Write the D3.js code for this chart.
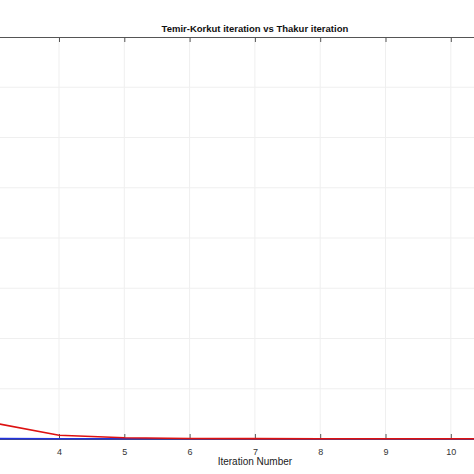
<!DOCTYPE html>
<html>
<head>
<meta charset="utf-8">
<script src="https://cdn.jsdelivr.net/npm/d3@7"></script>
<style>
  body { margin: 0; background: white; }
  text { font-family: "Liberation Sans", Arial, sans-serif; }
</style>
</head>
<body>
<div id="graf"></div>
<script>
// Datos
const iterations = [1, 2, 3, 4, 5, 6, 7, 8, 9, 10, 11, 12]
const temirKorkut = [0.02, 0.012, 0.008, 0.006, 0.005, 0.004, 0.004, 0.004, 0.004, 0.004, 0.004, 0.004]
const thakur = [4.1, 1.3, 0.32, 0.075, 0.025, 0.01, 0.007, 0.006, 0.005, 0.005, 0.005, 0.005]
const xTicks = [4, 5, 6, 7, 8, 9, 10]
const yTicks = [0, 1, 2, 3, 4, 5, 6, 7, 8]

const W = 474, H = 474
const svg = d3.select('#graf').append('svg').attr('width', W).attr('height', H)

const x = d3.scaleLinear().domain([1, 13]).range([59 - 3 * 65.3, 59 + 9 * 65.3])
const y = d3.scaleLinear().domain([0, 8]).range([439, 37])

// Rejilla
svg.append('g').selectAll('line').data(xTicks).join('line')
  .attr('x1', d => x(d)).attr('x2', d => x(d)).attr('y1', 37).attr('y2', 439)
  .attr('stroke', '#efefef')
svg.append('g').selectAll('line').data(yTicks.slice(1, -1)).join('line')
  .attr('x1', 0).attr('x2', W).attr('y1', d => y(d)).attr('y2', d => y(d))
  .attr('stroke', '#efefef')

// Ejes
const xb = svg.append('g').attr('transform', 'translate(0,439)')
  .call(d3.axisBottom(x).tickValues(xTicks).tickSize(-5).tickPadding(10).tickFormat(d3.format('d')))
xb.select('.domain').attr('stroke', '#555')
xb.selectAll('.tick line').attr('stroke', '#555')
xb.selectAll('text').attr('font-size', 9).attr('fill', '#333')

const xt = svg.append('g').attr('transform', 'translate(0,37)')
  .call(d3.axisTop(x).tickValues(xTicks).tickSize(-5).tickFormat(''))
xt.select('.domain').attr('stroke', '#555')
xt.selectAll('.tick line').attr('stroke', '#555')

// Lineas
const line = vals => d3.line().x((d, i) => x(iterations[i])).y(d => y(d))(vals)
svg.append('path').attr('d', line(temirKorkut)).attr('fill', 'none')
  .attr('stroke', '#2233dd').attr('stroke-width', 1.6)
svg.append('path').attr('d', line(thakur)).attr('fill', 'none')
  .attr('stroke', '#dd1111').attr('stroke-width', 1.6)

// Títulos
svg.append('text').attr('x', x(7)).attr('y', 32).attr('text-anchor', 'middle')
  .attr('font-size', 9.5).attr('font-weight', 'bold').attr('fill', '#111')
  .text('Temir-Korkut iteration vs Thakur iteration')
svg.append('text').attr('x', x(7)).attr('y', 465).attr('text-anchor', 'middle')
  .attr('font-size', 10).attr('fill', '#222').text('Iteration Number')
</script>
</body>
</html>
